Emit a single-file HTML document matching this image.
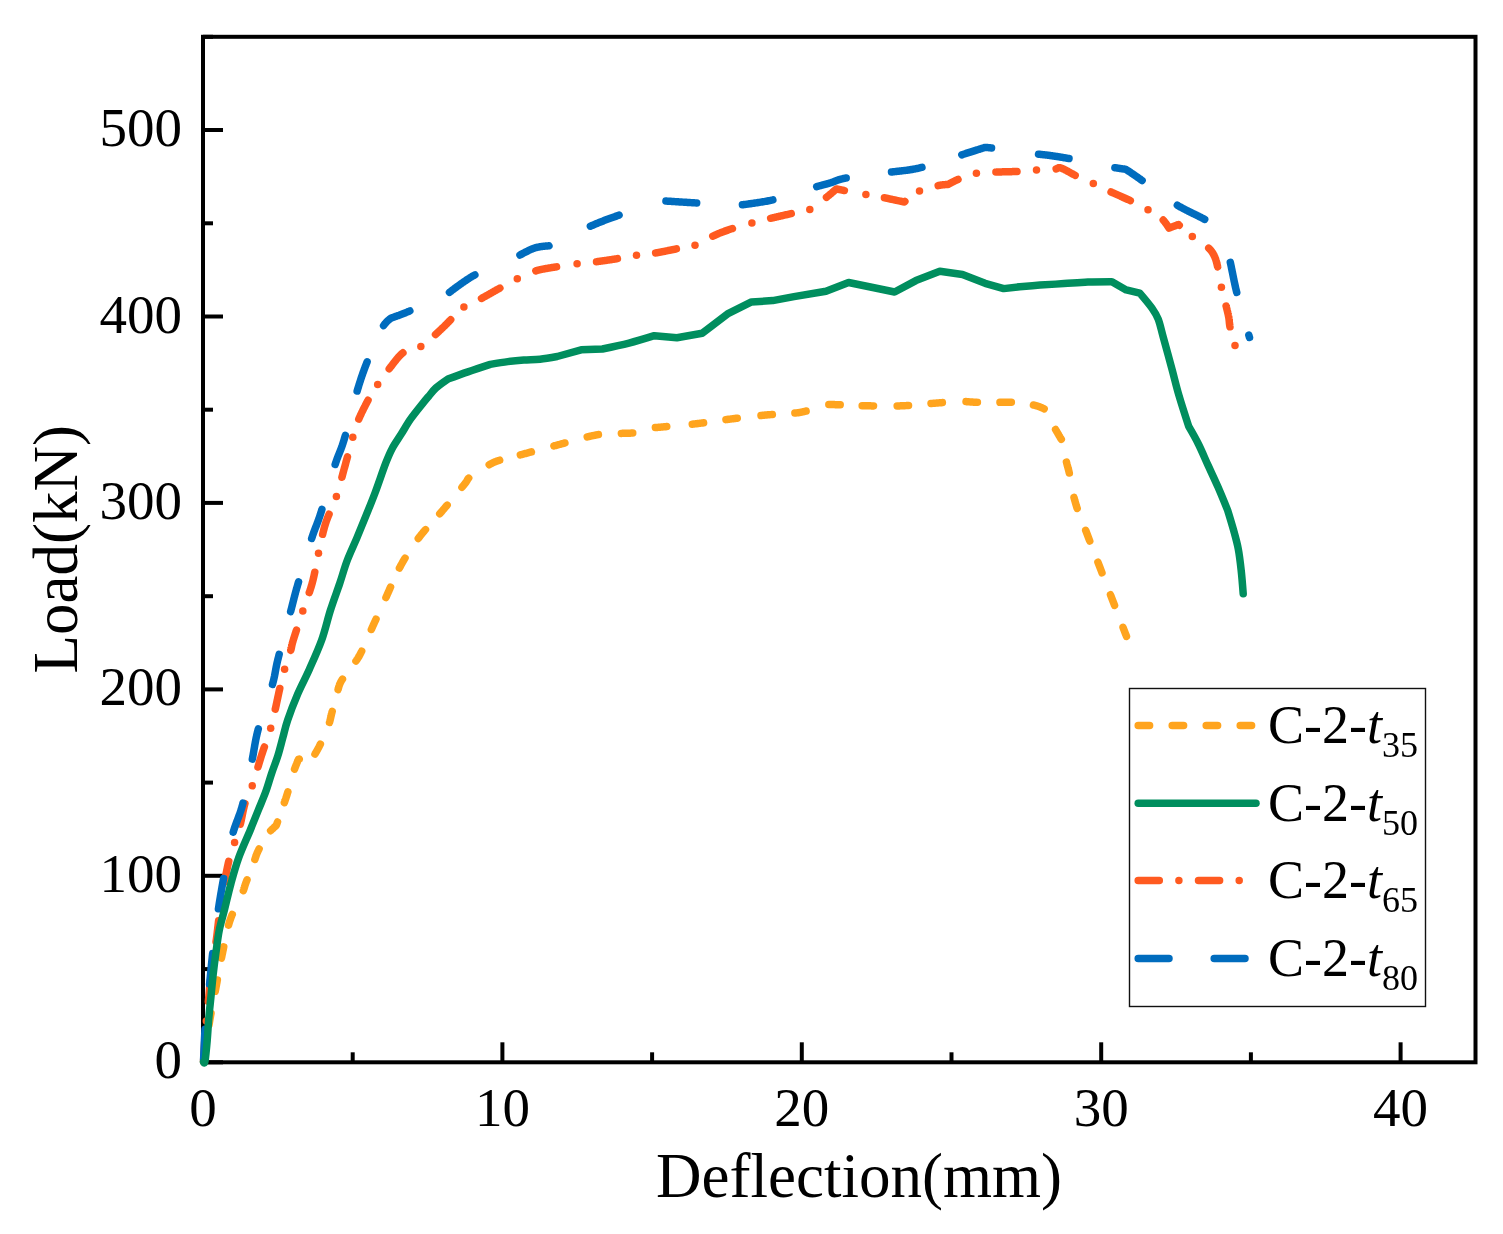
<!DOCTYPE html><html><head><meta charset="utf-8"><title>Load-Deflection</title><style>html,body{margin:0;padding:0;background:#fff;overflow:hidden;}svg{display:block;}</style></head><body>
<svg width="1503" height="1234" viewBox="0 0 1503 1234" font-family="'Liberation Serif', 'Times New Roman', serif">
<rect width="1503" height="1234" fill="#fff"/>
<g stroke="#000" stroke-width="4" fill="none" stroke-linecap="square">
<rect x="203.0" y="36.8" width="1272.5" height="1025.5"/>
<line x1="203.0" y1="1062.3" x2="203.0" y2="1042.3" stroke-linecap="butt"/>
<line x1="502.4" y1="1062.3" x2="502.4" y2="1042.3" stroke-linecap="butt"/>
<line x1="801.8" y1="1062.3" x2="801.8" y2="1042.3" stroke-linecap="butt"/>
<line x1="1101.2" y1="1062.3" x2="1101.2" y2="1042.3" stroke-linecap="butt"/>
<line x1="1400.6" y1="1062.3" x2="1400.6" y2="1042.3" stroke-linecap="butt"/>
<line x1="352.7" y1="1062.3" x2="352.7" y2="1052.3" stroke-linecap="butt"/>
<line x1="652.1" y1="1062.3" x2="652.1" y2="1052.3" stroke-linecap="butt"/>
<line x1="951.5" y1="1062.3" x2="951.5" y2="1052.3" stroke-linecap="butt"/>
<line x1="1250.9" y1="1062.3" x2="1250.9" y2="1052.3" stroke-linecap="butt"/>
<line x1="203.0" y1="1062.3" x2="223.0" y2="1062.3" stroke-linecap="butt"/>
<line x1="203.0" y1="875.8" x2="223.0" y2="875.8" stroke-linecap="butt"/>
<line x1="203.0" y1="689.4" x2="223.0" y2="689.4" stroke-linecap="butt"/>
<line x1="203.0" y1="502.9" x2="223.0" y2="502.9" stroke-linecap="butt"/>
<line x1="203.0" y1="316.5" x2="223.0" y2="316.5" stroke-linecap="butt"/>
<line x1="203.0" y1="130.0" x2="223.0" y2="130.0" stroke-linecap="butt"/>
<line x1="203.0" y1="969.1" x2="213.0" y2="969.1" stroke-linecap="butt"/>
<line x1="203.0" y1="782.6" x2="213.0" y2="782.6" stroke-linecap="butt"/>
<line x1="203.0" y1="596.2" x2="213.0" y2="596.2" stroke-linecap="butt"/>
<line x1="203.0" y1="409.7" x2="213.0" y2="409.7" stroke-linecap="butt"/>
<line x1="203.0" y1="223.3" x2="213.0" y2="223.3" stroke-linecap="butt"/>
<line x1="203.0" y1="36.8" x2="213.0" y2="36.8" stroke-linecap="butt"/>
</g>
<g font-size="55" fill="#000">
<text x="182" y="1078.3" text-anchor="end">0</text>
<text x="182" y="891.8" text-anchor="end">100</text>
<text x="182" y="705.4" text-anchor="end">200</text>
<text x="182" y="518.9" text-anchor="end">300</text>
<text x="182" y="332.5" text-anchor="end">400</text>
<text x="182" y="146.0" text-anchor="end">500</text>
<text x="203.0" y="1125.8" text-anchor="middle">0</text>
<text x="502.4" y="1125.8" text-anchor="middle">10</text>
<text x="801.8" y="1125.8" text-anchor="middle">20</text>
<text x="1101.2" y="1125.8" text-anchor="middle">30</text>
<text x="1400.6" y="1125.8" text-anchor="middle">40</text>
</g>
<text x="859" y="1196.7" font-size="63" text-anchor="middle">Deflection(mm)</text>
<text transform="translate(77.4,549.3) rotate(-90)" font-size="63" text-anchor="middle">Load(kN)</text>
<path d="M204.04,1058.30 L204.05,1058.25 L204.12,1057.79 L204.19,1057.32 L204.26,1056.83 L204.33,1056.33 L204.41,1055.81 L204.48,1055.29 L204.56,1054.75 L204.64,1054.20 L204.72,1053.65 L204.81,1053.09 L204.89,1052.53 L204.97,1051.96 L205.06,1051.39 L205.14,1050.82 L205.22,1050.26 L205.31,1049.69 L205.39,1049.14 L205.47,1048.58 L205.55,1048.04 L205.63,1047.50 L205.70,1047.03 M209.05,1024.68 L209.07,1024.54 L209.15,1024.08 L209.22,1023.63 L209.30,1023.18 L209.37,1022.74 L209.45,1022.30 L209.52,1021.86 L209.59,1021.42 L209.67,1020.99 L209.74,1020.56 L209.81,1020.14 L209.88,1019.71 L209.96,1019.29 L210.03,1018.87 L210.10,1018.45 L210.18,1018.03 L210.25,1017.62 L210.32,1017.20 L210.40,1016.79 L210.47,1016.38 L210.54,1015.96 L210.62,1015.55 L210.69,1015.14 L210.76,1014.73 L210.84,1014.32 L210.91,1013.90 L210.99,1013.49 L211.00,1013.44 M215.26,991.25 L215.37,990.66 L215.50,990.00 L215.63,989.31 L215.76,988.60 L215.90,987.87 L216.04,987.12 L216.19,986.34 L216.33,985.55 L216.48,984.74 L216.64,983.91 L216.79,983.06 L216.95,982.20 L217.11,981.33 L217.27,980.44 L217.34,980.04 M221.47,958.08 L221.57,957.57 L221.76,956.66 L221.94,955.76 L222.12,954.87 L222.30,954.00 L222.48,953.13 L222.66,952.27 L222.83,951.40 L223.01,950.53 L223.18,949.66 L223.35,948.80 L223.53,947.93 L223.70,947.06 L223.73,946.90 M228.54,925.20 L228.73,924.53 L228.95,923.75 L229.18,922.98 L229.42,922.21 L229.66,921.45 L229.90,920.70 L230.15,919.95 L230.41,919.20 L230.68,918.45 L230.96,917.69 L231.25,916.94 L231.55,916.19 L231.85,915.44 L232.16,914.69 L232.27,914.43 M243.35,890.60 L243.38,890.54 L243.49,890.24 L243.59,889.96 L243.68,889.68 L243.77,889.42 L243.86,889.17 L243.94,888.93 L244.01,888.69 L244.08,888.46 L244.15,888.24 L244.22,888.02 L244.28,887.80 L244.34,887.59 L244.41,887.37 L244.47,887.16 L244.53,886.95 L244.59,886.73 L244.66,886.51 L244.72,886.29 L244.79,886.06 L244.86,885.82 L244.94,885.58 L245.02,885.33 L245.10,885.07 L245.19,884.80 L245.28,884.51 L245.38,884.22 L245.49,883.91 L245.61,883.58 L245.73,883.24 L245.86,882.88 L246.00,882.50 L246.15,882.11 L246.30,881.70 L246.46,881.28 L246.63,880.84 L246.80,880.40 L246.97,879.94 L247.02,879.81 M254.86,859.47 L254.94,859.24 L255.04,858.94 L255.14,858.65 L255.23,858.37 L255.32,858.09 L255.41,857.81 L255.50,857.54 L255.59,857.26 L255.68,856.99 L255.77,856.73 L255.86,856.46 L255.95,856.19 L256.04,855.92 L256.14,855.65 L256.23,855.38 L256.33,855.10 L256.43,854.83 L256.54,854.55 L256.65,854.26 L256.76,853.97 L256.88,853.68 L257.00,853.38 L257.13,853.07 L257.26,852.76 L257.40,852.44 L257.55,852.11 L257.70,851.77 L257.86,851.42 L258.03,851.07 L258.20,850.70 L258.39,850.31 L258.59,849.90 L258.81,849.46 L259.05,849.00 L259.10,848.91 M270.65,830.65 L270.86,830.45 L271.16,830.17 L271.47,829.88 L271.79,829.59 L272.10,829.30 L272.41,829.01 L272.73,828.72 L273.04,828.43 L273.34,828.15 L273.64,827.87 L273.93,827.60 L274.21,827.34 L274.49,827.08 L274.74,826.85 L274.99,826.62 L275.22,826.41 L275.43,826.21 L275.62,826.03 L275.79,825.87 L275.94,825.74 L276.06,825.62 L276.17,825.53 L276.24,825.46 L276.28,825.41 L276.30,825.40 L276.31,825.37 L276.34,825.30 L276.38,825.18 L276.44,825.01 L276.52,824.80 L276.61,824.54 L276.71,824.25 L276.83,823.92 L276.96,823.56 L277.10,823.16 L277.25,822.73 L277.42,822.27 L277.54,821.93 M284.34,802.66 L284.45,802.36 L284.55,802.05 L284.66,801.75 L284.76,801.45 L284.86,801.16 L284.97,800.87 L285.07,800.58 L285.17,800.30 L285.26,800.01 L285.36,799.73 L285.46,799.44 L285.56,799.15 L285.66,798.86 L285.75,798.57 L285.85,798.28 L285.95,797.98 L286.05,797.68 L286.15,797.37 L286.25,797.06 L286.36,796.75 L286.46,796.42 L286.57,796.09 L286.68,795.75 L286.79,795.40 L286.90,795.05 L287.01,794.68 L287.13,794.30 L287.25,793.91 L287.37,793.51 L287.50,793.10 L287.63,792.67 L287.76,792.24 L287.88,791.83 M294.53,769.16 L294.69,768.73 L294.86,768.28 L295.03,767.83 L295.20,767.38 L295.37,766.94 L295.54,766.50 L295.71,766.06 L295.88,765.63 L296.05,765.21 L296.21,764.80 L296.37,764.40 L296.53,764.00 L296.69,763.62 L296.84,763.24 L296.99,762.88 L297.13,762.53 L297.27,762.20 L297.40,761.88 L297.52,761.58 L297.64,761.29 L297.75,761.02 L297.86,760.77 L297.96,760.54 L298.04,760.34 L298.12,760.15 L298.19,759.98 L298.26,759.84 L298.31,759.72 L298.35,759.62 L298.38,759.56 L298.39,759.51 L298.40,759.50 L298.41,759.50 L298.43,759.48 L298.47,759.46 L298.52,759.43 L298.58,759.39 L298.66,759.34 L298.75,759.28 L298.85,759.22 L298.97,759.16 L299.09,759.08 L299.22,759.00 L299.25,758.99 M314.96,754.10 L315.15,753.79 L315.34,753.46 L315.55,753.11 L315.75,752.76 L315.96,752.40 L316.18,752.04 L316.39,751.66 L316.61,751.28 L316.83,750.90 L317.05,750.51 L317.27,750.11 L317.49,749.71 L317.71,749.31 L317.93,748.91 L318.15,748.51 L318.37,748.10 L318.58,747.70 L318.80,747.29 L319.00,746.89 L319.21,746.49 L319.41,746.09 L319.60,745.70 L319.79,745.30 L319.99,744.89 L320.20,744.47 L320.38,744.08 M329.49,722.44 L329.54,722.26 L329.64,721.92 L329.73,721.59 L329.82,721.26 L329.91,720.94 L329.99,720.62 L330.07,720.30 L330.15,719.99 L330.23,719.68 L330.30,719.37 L330.38,719.06 L330.45,718.75 L330.52,718.44 L330.59,718.12 L330.66,717.81 L330.73,717.50 L330.80,717.18 L330.87,716.86 L330.94,716.54 L331.02,716.21 L331.09,715.88 L331.17,715.54 L331.25,715.20 L331.33,714.85 L331.42,714.50 L331.50,714.13 L331.60,713.76 L331.69,713.39 L331.79,713.00 L331.89,712.60 L332.00,712.20 L332.11,711.78 L332.22,711.38 M338.08,689.58 L338.12,689.43 L338.19,689.13 L338.27,688.83 L338.34,688.54 L338.42,688.26 L338.49,687.97 L338.56,687.69 L338.64,687.41 L338.72,687.13 L338.79,686.86 L338.87,686.58 L338.96,686.31 L339.04,686.03 L339.14,685.75 L339.23,685.47 L339.33,685.20 L339.43,684.91 L339.54,684.63 L339.65,684.34 L339.77,684.05 L339.90,683.75 L340.03,683.45 L340.18,683.14 L340.32,682.83 L340.48,682.51 L340.65,682.18 L340.82,681.85 L341.00,681.51 L341.20,681.16 L341.40,680.80 L341.62,680.43 L341.84,680.06 L342.08,679.67 L342.33,679.28 L342.44,679.12 M355.97,661.04 L356.06,660.92 L356.23,660.68 L356.39,660.44 L356.56,660.21 L356.72,659.98 L356.88,659.76 L357.03,659.53 L357.19,659.30 L357.34,659.07 L357.49,658.84 L357.65,658.61 L357.80,658.37 L357.95,658.13 L358.11,657.88 L358.26,657.63 L358.42,657.37 L358.58,657.10 L358.75,656.82 L358.91,656.53 L359.09,656.23 L359.26,655.91 L359.44,655.59 L359.62,655.25 L359.82,654.89 L360.01,654.52 L360.21,654.13 L360.42,653.73 L360.64,653.31 L360.87,652.86 L361.10,652.40 L361.34,651.92 L361.59,651.42 L361.69,651.20 M371.34,629.48 L371.60,628.89 L371.90,628.20 L372.20,627.53 L372.50,626.86 L372.80,626.20 L373.10,625.55 L373.39,624.90 L373.68,624.26 L373.97,623.62 L374.26,622.98 L374.54,622.35 L374.83,621.72 L375.12,621.10 L375.40,620.47 L375.68,619.85 L375.97,619.23 L376.03,619.09 M385.94,597.49 L386.23,596.85 L386.60,596.03 L386.97,595.20 L387.34,594.35 L387.72,593.50 L388.10,592.64 L388.48,591.78 L388.86,590.90 L389.25,590.02 L389.64,589.13 L390.03,588.23 L390.43,587.33 L390.55,587.06 M399.44,568.03 L399.60,567.72 L400.03,566.90 L400.47,566.10 L400.90,565.30 L401.33,564.51 L401.77,563.74 L402.20,562.96 L402.64,562.20 L403.08,561.43 L403.51,560.68 L403.95,559.93 L404.39,559.18 L404.83,558.44 L405.04,558.10 M418.30,538.48 L418.47,538.27 L418.98,537.58 L419.50,536.90 L420.02,536.22 L420.55,535.54 L421.09,534.86 L421.63,534.18 L422.17,533.51 L422.72,532.84 L423.28,532.17 L423.84,531.50 L424.40,530.84 L424.97,530.17 L425.46,529.61 M439.75,513.76 L440.23,513.22 L440.80,512.56 L441.37,511.91 L441.94,511.26 L442.50,510.60 L443.06,509.94 L443.64,509.27 L444.22,508.58 L444.80,507.89 L445.39,507.19 L445.99,506.48 L446.59,505.77 L447.16,505.10 M461.96,487.26 L462.35,486.77 L462.78,486.26 L463.18,485.76 L463.57,485.29 L463.95,484.83 L464.30,484.40 L464.63,483.99 L464.93,483.61 L465.21,483.25 L465.47,482.91 L465.71,482.60 L465.92,482.30 L466.11,482.03 L466.29,481.77 L466.45,481.53 L466.59,481.31 L466.72,481.10 L466.84,480.91 L466.95,480.72 L467.04,480.56 L467.12,480.40 L467.20,480.25 L467.27,480.11 L467.34,479.98 L467.40,479.86 L467.46,479.74 L467.51,479.62 L467.57,479.51 L467.63,479.41 L467.69,479.30 L467.75,479.20 L467.82,479.09 L467.89,478.99 L467.97,478.88 L468.06,478.77 L468.16,478.65 L468.28,478.53 L468.40,478.40 L468.54,478.26 L468.69,478.11 L468.69,478.11 M489.20,464.72 L489.39,464.61 L489.66,464.45 L489.94,464.29 L490.23,464.13 L490.54,463.96 L490.86,463.79 L491.18,463.62 L491.52,463.44 L491.87,463.26 L492.24,463.08 L492.61,462.90 L492.99,462.72 L493.38,462.54 L493.78,462.36 L494.20,462.17 L494.62,461.99 L495.05,461.82 L495.48,461.64 L495.93,461.47 L496.39,461.29 L496.85,461.13 L497.32,460.96 L497.80,460.80 L498.29,460.64 L498.80,460.48 L499.32,460.32 L499.64,460.22 M520.37,454.83 L520.85,454.71 L521.63,454.51 L522.41,454.31 L523.18,454.11 L523.96,453.91 L524.73,453.70 L525.50,453.50 L526.28,453.29 L527.06,453.09 L527.86,452.87 L528.68,452.66 L529.50,452.44 L530.33,452.22 L531.17,452.00 L531.40,451.94 M553.92,445.95 L554.69,445.74 L555.49,445.53 L556.28,445.31 L557.05,445.11 L557.82,444.90 L558.57,444.70 L559.30,444.50 L560.02,444.30 L560.74,444.11 L561.44,443.92 L562.14,443.72 L562.83,443.53 L563.52,443.34 L564.20,443.15 L564.87,442.96 L564.92,442.95 M587.24,436.92 L587.65,436.82 L588.13,436.70 L588.61,436.59 L589.09,436.48 L589.55,436.37 L590.02,436.26 L590.48,436.16 L590.94,436.06 L591.39,435.96 L591.84,435.86 L592.29,435.76 L592.73,435.66 L593.18,435.57 L593.61,435.48 L594.05,435.39 L594.48,435.30 L594.92,435.21 L595.35,435.13 L595.77,435.05 L596.20,434.97 L596.63,434.89 L597.05,434.81 L597.48,434.74 L597.90,434.66 L598.32,434.59 L598.40,434.58 M621.35,433.39 L621.66,433.38 L622.23,433.36 L622.82,433.34 L623.41,433.33 L624.01,433.31 L624.61,433.29 L625.21,433.28 L625.82,433.26 L626.42,433.24 L627.02,433.23 L627.61,433.21 L628.20,433.20 L628.77,433.18 L629.34,433.17 L629.90,433.15 L630.44,433.14 L630.96,433.12 L631.47,433.11 L631.95,433.10 L632.42,433.08 L632.74,433.08 M655.39,427.54 L655.39,427.54 L655.56,427.52 L655.73,427.51 L655.90,427.49 L656.08,427.48 L656.26,427.47 L656.46,427.46 L656.66,427.44 L656.87,427.43 L657.10,427.42 L657.33,427.40 L657.58,427.39 L657.85,427.37 L658.14,427.35 L658.44,427.33 L658.76,427.30 L659.10,427.28 L659.47,427.25 L659.86,427.22 L660.27,427.18 L660.71,427.14 L661.18,427.10 L661.67,427.05 L662.20,427.00 L662.75,426.95 L663.33,426.89 L663.94,426.83 L664.57,426.77 L665.22,426.72 L665.89,426.65 L666.58,426.59 L666.75,426.58 M692.27,424.21 L692.41,424.19 L693.28,424.10 L694.15,424.00 L695.00,423.90 L695.85,423.80 L696.70,423.70 L697.55,423.59 L698.41,423.49 L699.27,423.38 L700.13,423.26 L700.99,423.15 L701.86,423.04 L702.73,422.92 L703.58,422.80 M725.95,419.63 L726.49,419.56 L727.37,419.44 L728.25,419.32 L729.12,419.21 L730.00,419.10 L730.88,418.99 L731.75,418.88 L732.63,418.77 L733.51,418.66 L734.39,418.55 L735.27,418.44 L736.15,418.33 L737.03,418.22 L737.26,418.19 M761.00,415.49 L761.58,415.43 L762.44,415.34 L763.30,415.26 L764.15,415.18 L765.00,415.10 L765.87,415.02 L766.77,414.94 L767.71,414.86 L768.68,414.78 L769.67,414.70 L770.69,414.62 L771.73,414.54 L772.35,414.49 M794.89,412.98 L795.07,412.97 L795.66,412.94 L796.18,412.91 L796.65,412.88 L797.05,412.86 L797.38,412.84 L797.65,412.82 L797.84,412.81 L797.96,412.80 L798.00,412.80 L798.01,412.80 L798.04,412.79 L798.10,412.78 L798.17,412.77 L798.26,412.75 L798.37,412.73 L798.50,412.71 L798.64,412.68 L798.80,412.65 L798.98,412.62 L799.17,412.58 L799.37,412.54 L799.59,412.50 L799.82,412.45 L800.07,412.41 L800.32,412.36 L800.59,412.30 L800.86,412.25 L801.14,412.19 L801.44,412.12 L801.74,412.06 L802.05,412.00 L802.36,411.93 L802.68,411.86 L803.00,411.78 L803.33,411.71 L803.67,411.63 L804.00,411.56 L804.34,411.48 L804.68,411.39 L805.02,411.31 L805.36,411.23 L805.70,411.14 L806.04,411.05 L806.10,411.04 M828.82,404.48 L829.00,404.48 L829.26,404.47 L829.51,404.46 L829.75,404.46 L829.98,404.46 L830.21,404.46 L830.42,404.46 L830.62,404.46 L830.81,404.46 L830.99,404.47 L831.16,404.47 L831.31,404.47 L831.45,404.48 L831.57,404.48 L831.68,404.49 L831.78,404.49 L831.86,404.49 L831.92,404.50 L831.96,404.50 L831.99,404.50 L832.00,404.50 L832.04,404.50 L832.17,404.51 L832.38,404.52 L832.67,404.53 L833.03,404.55 L833.47,404.57 L833.97,404.59 L834.54,404.61 L835.17,404.64 L835.85,404.67 L836.60,404.71 L837.39,404.74 L838.23,404.78 L839.12,404.81 L840.05,404.85 L840.21,404.86 M862.16,405.68 L862.33,405.68 L863.37,405.71 L864.38,405.74 L865.36,405.76 L866.30,405.78 L867.20,405.80 L868.08,405.82 L868.95,405.83 L869.83,405.85 L870.71,405.87 L871.58,405.88 L872.46,405.90 L873.34,405.91 L873.55,405.92 M897.15,405.96 L897.83,405.94 L898.70,405.92 L899.58,405.89 L900.45,405.86 L901.33,405.83 L902.20,405.80 L903.08,405.76 L903.96,405.72 L904.85,405.68 L905.75,405.63 L906.65,405.58 L907.56,405.52 L908.46,405.46 L908.54,405.46 M931.02,403.53 L931.73,403.47 L932.55,403.39 L933.35,403.32 L934.15,403.25 L934.93,403.19 L935.70,403.12 L936.46,403.06 L937.20,403.00 L937.95,402.94 L938.71,402.88 L939.48,402.82 L940.26,402.76 L941.05,402.70 L941.86,402.64 L942.38,402.60 M966.03,401.60 L966.03,401.60 L966.58,401.65 L967.14,401.69 L967.72,401.74 L968.31,401.78 L968.92,401.83 L969.54,401.87 L970.17,401.92 L970.81,401.96 L971.46,402.01 L972.11,402.05 L972.77,402.10 L973.43,402.14 L974.08,402.18 L974.74,402.22 L975.40,402.26 L976.05,402.29 L976.69,402.33 L977.33,402.36 L977.40,402.36 M999.95,402.36 L1000.53,402.35 L1001.12,402.34 L1001.70,402.33 L1002.27,402.33 L1002.84,402.32 L1003.39,402.31 L1003.94,402.31 L1004.47,402.30 L1005.00,402.30 L1005.53,402.30 L1006.07,402.30 L1006.62,402.29 L1007.17,402.29 L1007.74,402.29 L1008.32,402.29 L1008.90,402.29 L1009.48,402.29 L1010.07,402.29 L1010.66,402.29 L1011.25,402.29 L1011.35,402.29 M1033.47,405.00 L1033.80,405.08 L1034.28,405.21 L1034.74,405.33 L1035.19,405.45 L1035.63,405.57 L1036.05,405.69 L1036.44,405.80 L1036.82,405.91 L1037.17,406.01 L1037.50,406.11 L1037.80,406.20 L1038.09,406.29 L1038.37,406.39 L1038.66,406.48 L1038.94,406.58 L1039.22,406.69 L1039.50,406.79 L1039.78,406.90 L1040.06,407.00 L1040.33,407.11 L1040.60,407.22 L1040.86,407.33 L1041.12,407.44 L1041.38,407.55 L1041.63,407.66 L1041.88,407.77 L1042.12,407.88 L1042.36,407.99 L1042.59,408.09 L1042.81,408.20 L1043.03,408.30 L1043.24,408.40 L1043.44,408.50 L1043.64,408.59 L1043.82,408.68 L1044.00,408.77 L1044.16,408.85 M1055.56,429.47 L1055.79,429.89 L1056.04,430.32 L1056.29,430.76 L1056.54,431.20 L1056.79,431.64 L1057.05,432.08 L1057.30,432.52 L1057.55,432.95 L1057.81,433.39 L1058.06,433.81 L1058.30,434.24 L1058.55,434.65 L1058.79,435.06 L1059.02,435.46 L1059.26,435.85 L1059.48,436.23 L1059.70,436.60 L1059.91,436.96 L1060.12,437.30 L1060.31,437.63 L1060.50,437.94 L1060.67,438.23 L1060.84,438.51 L1061.00,438.77 L1061.14,439.01 L1061.27,439.23 L1061.32,439.31 M1066.46,462.03 L1066.48,462.11 L1066.57,462.49 L1066.66,462.86 L1066.75,463.22 L1066.84,463.57 L1066.93,463.91 L1067.01,464.24 L1067.10,464.56 L1067.18,464.88 L1067.26,465.18 L1067.34,465.49 L1067.42,465.79 L1067.50,466.08 L1067.58,466.37 L1067.66,466.66 L1067.74,466.95 L1067.82,467.23 L1067.90,467.51 L1067.98,467.79 L1068.06,468.08 L1068.13,468.36 L1068.21,468.65 L1068.29,468.94 L1068.37,469.23 L1068.44,469.52 L1068.52,469.82 L1068.60,470.12 L1068.68,470.43 L1068.76,470.75 L1068.84,471.07 L1068.92,471.41 L1069.00,471.75 L1069.08,472.09 L1069.16,472.45 L1069.25,472.82 L1069.30,473.07 M1073.98,497.44 L1074.09,497.85 L1074.21,498.32 L1074.34,498.79 L1074.46,499.25 L1074.59,499.71 L1074.72,500.17 L1074.84,500.63 L1074.97,501.08 L1075.10,501.52 L1075.22,501.96 L1075.34,502.38 L1075.46,502.80 L1075.58,503.21 L1075.70,503.60 L1075.81,503.99 L1075.92,504.36 L1076.02,504.71 L1076.12,505.05 L1076.22,505.37 L1076.31,505.68 L1076.40,505.96 L1076.48,506.23 L1076.55,506.48 L1076.62,506.70 L1076.69,506.90 L1076.74,507.08 L1076.79,507.24 L1076.83,507.36 L1076.86,507.47 L1076.88,507.54 L1076.90,507.58 L1076.90,507.60 L1076.99,507.84 L1077.20,508.38 M1085.67,530.37 L1086.09,531.46 L1087.61,535.42 L1089.21,539.57 L1089.77,541.01 M1097.90,562.14 L1097.99,562.37 L1099.84,567.17 L1101.70,572.00 L1102.00,572.78 M1110.46,594.75 L1110.81,595.65 L1112.53,600.11 L1114.19,604.43 L1114.56,605.39 M1123.02,627.36 L1123.49,628.58 L1124.37,630.87 L1125.11,632.79 L1125.70,634.34 L1126.14,635.47 L1126.41,636.16 L1126.50,636.40" fill="none" stroke="#FFA41E" stroke-width="7.5" stroke-linecap="round" stroke-linejoin="round"/>
<path d="M203.53,1061.51 L203.53,1061.38 L203.55,1061.05 L203.57,1060.65 L203.60,1060.19 L203.63,1059.66 L203.66,1059.09 L203.70,1058.45 L203.73,1057.77 L203.77,1057.04 L203.82,1056.27 L203.86,1055.45 L203.91,1054.60 L203.96,1053.71 L204.02,1052.79 L204.07,1051.84 L204.13,1050.87 L204.19,1049.88 L204.25,1048.86 L204.31,1047.83 L204.37,1046.78 L204.44,1045.73 L204.50,1044.67 L204.57,1043.60 L204.63,1042.53 L204.70,1041.47 L204.77,1040.45 M208.36,1001.42 L208.42,1000.81 L208.50,1000.00 L208.58,999.18 L208.66,998.35 L208.74,997.51 L208.83,996.65 L208.91,995.79 L208.99,994.91 L209.08,994.03 L209.16,993.14 L209.24,992.24 L209.33,991.34 L209.41,990.43 L209.49,989.51 L209.58,988.60 L209.66,987.67 L209.75,986.75 L209.84,985.82 L209.92,984.89 L210.01,983.97 L210.09,983.04 L210.18,982.11 L210.27,981.19 L210.34,980.41 M216.03,941.65 L216.10,941.20 L216.18,940.63 L216.27,940.06 L216.35,939.50 L216.42,938.93 L216.50,938.37 L216.58,937.82 L216.65,937.26 L216.72,936.70 L216.79,936.15 L216.86,935.60 L216.93,935.05 L217.00,934.50 L217.06,933.96 L217.13,933.41 L217.19,932.87 L217.26,932.32 L217.32,931.78 L217.38,931.24 L217.44,930.70 L217.51,930.16 L217.57,929.62 L217.63,929.08 L217.69,928.54 L217.75,928.00 L217.81,927.46 L217.87,926.92 L217.94,926.38 L218.00,925.84 L218.06,925.30 L218.12,924.76 L218.19,924.22 L218.25,923.68 L218.32,923.13 L218.38,922.59 L218.45,922.04 L218.52,921.50 L218.59,920.95 L218.62,920.71 M224.53,881.96 L224.57,881.73 L224.65,881.26 L224.74,880.80 L224.83,880.32 L224.92,879.85 L225.01,879.37 L225.11,878.89 L225.20,878.40 L225.30,877.91 L225.39,877.41 L225.49,876.91 L225.59,876.40 L225.69,875.88 L225.79,875.37 L225.89,874.85 L225.99,874.32 L226.10,873.79 L226.20,873.26 L226.31,872.73 L226.41,872.20 L226.52,871.66 L226.63,871.12 L226.74,870.58 L226.84,870.04 L226.95,869.51 L227.06,868.97 L227.18,868.43 L227.29,867.89 L227.40,867.35 L227.51,866.81 L227.63,866.28 L227.74,865.75 L227.85,865.22 L227.97,864.69 L228.08,864.17 L228.20,863.65 L228.31,863.13 L228.43,862.62 L228.55,862.11 L228.66,861.61 L228.74,861.29 M240.33,824.10 L240.39,823.86 L240.52,823.33 L240.65,822.79 L240.77,822.24 L240.90,821.68 L241.02,821.12 L241.15,820.55 L241.27,819.98 L241.39,819.40 L241.51,818.81 L241.64,818.22 L241.76,817.63 L241.88,817.04 L242.00,816.44 L242.13,815.84 L242.25,815.24 L242.37,814.63 L242.49,814.03 L242.62,813.43 L242.74,812.83 L242.87,812.23 L242.99,811.63 L243.12,811.03 L243.25,810.44 L243.38,809.84 L243.51,809.26 L243.64,808.67 L243.77,808.10 L243.91,807.52 L244.04,806.96 L244.18,806.40 L244.32,805.84 L244.46,805.30 L244.60,804.76 L244.75,804.23 L244.90,803.71 L244.96,803.51 M257.99,767.03 L258.20,766.31 L258.43,765.53 L258.66,764.74 L258.89,763.96 L259.12,763.18 L259.35,762.40 L259.58,761.63 L259.82,760.86 L260.05,760.10 L260.28,759.35 L260.51,758.60 L260.74,757.86 L260.97,757.12 L261.20,756.40 L261.43,755.68 L261.67,754.95 L261.91,754.22 L262.15,753.49 L262.39,752.75 L262.64,752.01 L262.89,751.27 L263.14,750.52 L263.40,749.78 L263.65,749.03 L263.91,748.28 L264.17,747.54 L264.38,746.93 M275.31,709.06 L275.34,708.94 L275.46,708.40 L275.58,707.84 L275.71,707.28 L275.83,706.71 L275.96,706.14 L276.09,705.56 L276.21,704.97 L276.34,704.38 L276.47,703.78 L276.60,703.17 L276.73,702.57 L276.86,701.96 L276.99,701.34 L277.12,700.73 L277.25,700.11 L277.39,699.49 L277.52,698.87 L277.65,698.25 L277.78,697.63 L277.91,697.01 L278.05,696.39 L278.18,695.78 L278.31,695.16 L278.44,694.55 L278.57,693.95 L278.70,693.34 L278.83,692.74 L278.96,692.15 L279.09,691.56 L279.21,690.98 L279.34,690.40 L279.47,689.83 L279.59,689.27 L279.72,688.72 L279.78,688.44 M290.79,650.33 L290.86,650.08 L290.93,649.80 L291.00,649.53 L291.06,649.27 L291.12,649.02 L291.17,648.77 L291.23,648.54 L291.28,648.31 L291.32,648.09 L291.37,647.87 L291.41,647.65 L291.45,647.44 L291.49,647.22 L291.53,647.01 L291.58,646.79 L291.62,646.57 L291.66,646.35 L291.71,646.13 L291.75,645.89 L291.80,645.65 L291.86,645.41 L291.91,645.15 L291.97,644.88 L292.04,644.61 L292.10,644.32 L292.18,644.01 L292.26,643.69 L292.34,643.36 L292.44,643.01 L292.54,642.64 L292.64,642.26 L292.76,641.85 L292.88,641.42 L293.01,640.97 L293.15,640.50 L293.30,640.00 L293.46,639.48 L293.63,638.94 L293.80,638.37 L293.98,637.79 L294.17,637.19 L294.37,636.57 L294.57,635.93 L294.78,635.28 L294.99,634.61 L295.21,633.93 L295.44,633.23 L295.66,632.52 L295.90,631.80 L296.14,631.06 L296.38,630.32 L296.47,630.03 M309.27,592.56 L309.46,592.00 L309.69,591.30 L309.93,590.60 L310.16,589.90 L310.39,589.20 L310.61,588.49 L310.83,587.79 L311.05,587.08 L311.27,586.37 L311.48,585.66 L311.69,584.95 L311.90,584.24 L312.10,583.52 L312.30,582.80 L312.49,582.08 L312.68,581.36 L312.87,580.63 L313.05,579.91 L313.23,579.18 L313.40,578.45 L313.57,577.72 L313.74,576.99 L313.90,576.26 L314.06,575.53 L314.22,574.79 L314.38,574.06 L314.53,573.32 L314.68,572.58 L314.76,572.21 M322.63,534.30 L322.73,533.89 L322.91,533.15 L323.09,532.41 L323.27,531.68 L323.46,530.94 L323.65,530.21 L323.84,529.47 L324.03,528.74 L324.23,528.02 L324.43,527.29 L324.64,526.57 L324.85,525.85 L325.06,525.13 L325.28,524.41 L325.50,523.70 L325.73,522.99 L325.96,522.29 L326.20,521.58 L326.44,520.89 L326.69,520.19 L326.95,519.50 L327.21,518.81 L327.47,518.13 L327.74,517.45 L328.01,516.76 L328.29,516.09 L328.57,515.41 L328.85,514.74 L329.06,514.23 M341.93,477.25 L342.11,476.57 L342.31,475.83 L342.50,475.08 L342.70,474.33 L342.90,473.59 L343.09,472.84 L343.29,472.10 L343.49,471.35 L343.69,470.61 L343.89,469.86 L344.09,469.12 L344.29,468.38 L344.50,467.64 L344.70,466.90 L344.91,466.16 L345.11,465.41 L345.32,464.65 L345.53,463.89 L345.74,463.12 L345.95,462.35 L346.16,461.57 L346.37,460.79 L346.59,460.01 L346.80,459.22 L347.01,458.43 L347.22,457.64 L347.43,456.88 M358.75,419.17 L358.81,419.03 L359.02,418.54 L359.24,418.03 L359.46,417.53 L359.69,417.01 L359.92,416.49 L360.16,415.97 L360.41,415.44 L360.65,414.91 L360.90,414.37 L361.16,413.83 L361.41,413.29 L361.67,412.74 L361.94,412.19 L362.20,411.64 L362.47,411.09 L362.74,410.54 L363.01,409.99 L363.28,409.44 L363.55,408.89 L363.83,408.35 L364.10,407.80 L364.38,407.26 L364.65,406.71 L364.93,406.18 L365.20,405.64 L365.48,405.11 L365.75,404.58 L366.02,404.06 L366.29,403.54 L366.56,403.03 L366.82,402.53 L367.09,402.03 L367.35,401.54 L367.60,401.05 L367.86,400.58 L368.04,400.23 M389.23,368.78 L389.50,368.44 L389.84,368.00 L390.18,367.56 L390.53,367.10 L390.89,366.64 L391.24,366.18 L391.60,365.70 L391.96,365.22 L392.33,364.74 L392.70,364.26 L393.07,363.77 L393.45,363.28 L393.82,362.79 L394.20,362.30 L394.59,361.81 L394.97,361.31 L395.36,360.83 L395.75,360.34 L396.14,359.85 L396.54,359.37 L396.93,358.89 L397.33,358.42 L397.73,357.96 L398.13,357.50 L398.53,357.04 L398.93,356.60 L399.33,356.16 L399.74,355.73 L400.14,355.31 L400.55,354.90 L400.95,354.51 L401.36,354.12 L401.77,353.75 L402.17,353.39 L402.58,353.05 L402.91,352.78 M435.52,334.43 L436.06,333.93 L436.60,333.43 L437.14,332.92 L437.68,332.41 L438.22,331.91 L438.76,331.40 L439.31,330.90 L439.85,330.39 L440.39,329.89 L440.93,329.39 L441.46,328.89 L442.00,328.40 L442.54,327.90 L443.08,327.39 L443.63,326.87 L444.18,326.34 L444.73,325.79 L445.29,325.24 L445.85,324.69 L446.42,324.12 L446.98,323.55 L447.55,322.97 L448.12,322.39 L448.69,321.80 L449.26,321.21 L449.83,320.62 L450.40,320.03 L450.67,319.75 M481.51,298.40 L481.94,298.16 L482.45,297.89 L482.96,297.61 L483.48,297.32 L484.01,297.03 L484.55,296.73 L485.08,296.44 L485.63,296.13 L486.17,295.83 L486.73,295.52 L487.28,295.21 L487.84,294.89 L488.40,294.58 L488.96,294.26 L489.53,293.94 L490.09,293.62 L490.66,293.30 L491.22,292.98 L491.79,292.66 L492.35,292.34 L492.91,292.02 L493.47,291.70 L494.03,291.38 L494.58,291.07 L495.14,290.76 L495.68,290.45 L496.23,290.14 L496.76,289.83 L497.30,289.53 L497.82,289.24 L498.34,288.95 L498.86,288.66 L499.36,288.37 L499.86,288.10 L499.91,288.07 M535.84,270.82 L535.90,270.80 L536.42,270.65 L536.94,270.50 L537.48,270.36 L538.02,270.22 L538.56,270.08 L539.11,269.94 L539.67,269.81 L540.23,269.68 L540.79,269.56 L541.36,269.43 L541.94,269.31 L542.51,269.19 L543.09,269.08 L543.67,268.97 L544.26,268.85 L544.84,268.74 L545.43,268.64 L546.02,268.53 L546.61,268.43 L547.20,268.32 L547.79,268.22 L548.38,268.13 L548.97,268.03 L549.56,267.93 L550.14,267.84 L550.73,267.74 L551.31,267.65 L551.89,267.56 L552.46,267.47 L553.04,267.38 L553.61,267.29 L554.17,267.20 L554.73,267.11 L555.29,267.02 L555.84,266.94 L556.38,266.85 L556.54,266.82 M596.50,261.72 L596.56,261.72 L597.12,261.64 L597.69,261.56 L598.28,261.48 L598.87,261.40 L599.46,261.32 L600.07,261.24 L600.68,261.15 L601.29,261.07 L601.91,260.98 L602.54,260.89 L603.17,260.80 L603.80,260.71 L604.44,260.62 L605.07,260.52 L605.71,260.43 L606.35,260.34 L606.99,260.24 L607.63,260.15 L608.27,260.05 L608.90,259.96 L609.54,259.87 L610.17,259.77 L610.80,259.68 L611.42,259.58 L612.04,259.49 L612.66,259.39 L613.27,259.30 L613.87,259.21 L614.47,259.12 L615.06,259.02 L615.64,258.93 L616.21,258.85 L616.77,258.76 L617.33,258.67 L617.38,258.66 M655.66,252.97 L655.97,252.92 L656.55,252.82 L657.14,252.71 L657.75,252.60 L658.36,252.49 L658.99,252.37 L659.62,252.25 L660.26,252.13 L660.91,252.01 L661.56,251.88 L662.22,251.75 L662.89,251.62 L663.56,251.49 L664.23,251.36 L664.90,251.22 L665.58,251.09 L666.25,250.95 L666.93,250.81 L667.61,250.68 L668.28,250.54 L668.95,250.40 L669.62,250.26 L670.29,250.13 L670.95,249.99 L671.61,249.86 L672.26,249.73 L672.90,249.59 L673.54,249.46 L674.16,249.34 L674.78,249.21 L675.39,249.09 L675.99,248.96 L676.36,248.89 M712.78,236.21 L713.11,236.05 L713.97,235.65 L714.83,235.25 L715.69,234.86 L716.53,234.48 L717.35,234.11 L718.16,233.76 L718.95,233.42 L719.73,233.10 L720.48,232.79 L721.20,232.50 L721.91,232.22 L722.64,231.95 L723.36,231.67 L724.10,231.40 L724.84,231.13 L725.58,230.87 L726.33,230.60 L727.09,230.34 L727.85,230.08 L728.61,229.82 L729.38,229.56 L730.15,229.30 L730.93,229.05 L731.70,228.80 L732.43,228.57 M770.66,218.29 L771.07,218.20 L771.77,218.04 L772.47,217.88 L773.18,217.72 L773.88,217.56 L774.59,217.40 L775.29,217.24 L776.00,217.08 L776.71,216.92 L777.43,216.76 L778.14,216.60 L778.86,216.43 L779.58,216.27 L780.30,216.10 L781.04,215.93 L781.82,215.75 L782.63,215.56 L783.47,215.37 L784.34,215.18 L785.23,214.97 L786.14,214.77 L787.07,214.56 L788.02,214.34 L788.98,214.13 L789.95,213.91 L790.93,213.69 L791.24,213.62 M826.50,197.27 L826.53,197.24 L826.87,196.97 L827.22,196.70 L827.56,196.42 L827.91,196.14 L828.26,195.86 L828.61,195.58 L828.96,195.29 L829.31,195.00 L829.66,194.71 L830.01,194.42 L830.36,194.13 L830.70,193.84 L831.04,193.55 L831.38,193.27 L831.71,192.99 L832.03,192.71 L832.35,192.44 L832.66,192.17 L832.96,191.91 L833.26,191.66 L833.54,191.41 L833.82,191.17 L834.09,190.94 L834.34,190.72 L834.59,190.50 L834.82,190.30 L835.03,190.11 L835.24,189.93 L835.43,189.76 L835.61,189.61 L835.76,189.46 L835.91,189.34 L836.03,189.23 L836.14,189.13 L836.23,189.05 L836.31,188.98 L836.36,188.94 L836.39,188.91 L836.40,188.90 L836.41,188.90 L836.44,188.91 L836.50,188.92 L836.57,188.94 L836.67,188.96 L836.78,188.98 L836.91,189.01 L837.06,189.04 L837.23,189.08 L837.41,189.11 L837.61,189.16 L837.83,189.20 L838.05,189.25 L838.30,189.30 L838.55,189.35 L838.82,189.41 L839.10,189.47 L839.39,189.53 L839.69,189.59 L840.01,189.66 L840.33,189.72 L840.66,189.79 L840.99,189.86 L841.34,189.93 L841.69,190.00 L842.05,190.07 L842.41,190.15 L842.78,190.22 L843.15,190.29 L843.52,190.37 L843.90,190.44 L844.28,190.52 L844.37,190.54 M884.40,197.80 L884.41,197.80 L884.96,197.91 L885.53,198.03 L886.13,198.15 L886.74,198.28 L887.37,198.41 L888.01,198.54 L888.67,198.68 L889.34,198.82 L890.02,198.96 L890.71,199.11 L891.40,199.25 L892.09,199.40 L892.79,199.55 L893.48,199.70 L894.17,199.84 L894.85,199.99 L895.53,200.13 L896.19,200.28 L896.85,200.41 L897.49,200.55 L898.11,200.69 L898.72,200.82 L899.30,200.94 L899.86,201.06 L900.40,201.18 L900.91,201.29 L901.40,201.39 L901.85,201.49 L902.27,201.58 L902.65,201.66 L903.00,201.74 L903.30,201.81 L903.57,201.86 L903.79,201.91 L903.97,201.95 L904.09,201.98 L904.17,201.99 L904.20,202.00 L904.22,201.98 L904.27,201.94 L904.36,201.87 L904.48,201.77 L904.63,201.64 L904.81,201.49 L904.86,201.45 M938.19,185.58 L938.46,185.52 L938.81,185.44 L939.17,185.37 L939.53,185.30 L939.89,185.24 L940.25,185.18 L940.60,185.12 L940.95,185.06 L941.30,185.01 L941.65,184.96 L941.99,184.92 L942.33,184.88 L942.67,184.84 L943.00,184.80 L943.32,184.77 L943.64,184.74 L943.95,184.71 L944.25,184.68 L944.54,184.66 L944.83,184.64 L945.11,184.62 L945.38,184.60 L945.64,184.58 L945.88,184.57 L946.12,184.56 L946.35,184.55 L946.56,184.54 L946.76,184.53 L946.95,184.52 L947.12,184.52 L947.28,184.51 L947.43,184.51 L947.56,184.51 L947.67,184.50 L947.77,184.50 L947.85,184.50 L947.92,184.50 L947.96,184.50 L947.99,184.50 L948.00,184.50 L948.01,184.49 L948.05,184.47 L948.10,184.44 L948.18,184.40 L948.27,184.35 L948.39,184.28 L948.53,184.20 L948.68,184.12 L948.85,184.02 L949.04,183.92 L949.24,183.81 L949.46,183.69 L949.69,183.56 L949.94,183.43 L950.20,183.29 L950.47,183.14 L950.76,182.99 L951.05,182.83 L951.36,182.67 L951.67,182.51 L952.00,182.34 L952.33,182.17 L952.67,181.99 L953.02,181.81 L953.37,181.64 L953.73,181.46 L954.09,181.28 L954.46,181.10 L954.83,180.92 L955.20,180.74 L955.57,180.56 L955.95,180.38 L956.32,180.21 L956.70,180.04 L957.07,179.87 L957.44,179.71 L957.81,179.55 L958.01,179.46 M995.92,172.06 L996.05,172.06 L996.59,172.04 L997.14,172.02 L997.69,172.00 L998.24,171.98 L998.81,171.96 L999.37,171.95 L999.95,171.93 L1000.52,171.92 L1001.10,171.90 L1001.69,171.89 L1002.28,171.87 L1002.87,171.86 L1003.46,171.84 L1004.06,171.83 L1004.65,171.82 L1005.25,171.80 L1005.85,171.79 L1006.45,171.78 L1007.05,171.76 L1007.65,171.75 L1008.25,171.73 L1008.84,171.72 L1009.44,171.70 L1010.03,171.69 L1010.62,171.67 L1011.21,171.66 L1011.80,171.64 L1012.38,171.62 L1012.95,171.60 L1013.53,171.58 L1014.09,171.57 L1014.66,171.54 L1015.21,171.52 L1015.76,171.50 L1016.31,171.48 L1016.85,171.45 L1017.01,171.44 M1056.17,168.88 L1056.29,168.85 L1056.46,168.79 L1056.62,168.72 L1056.77,168.66 L1056.91,168.59 L1057.04,168.53 L1057.17,168.46 L1057.29,168.39 L1057.40,168.32 L1057.51,168.26 L1057.61,168.19 L1057.71,168.13 L1057.81,168.07 L1057.91,168.01 L1058.01,167.96 L1058.11,167.90 L1058.21,167.86 L1058.32,167.81 L1058.43,167.77 L1058.54,167.74 L1058.66,167.71 L1058.79,167.69 L1058.92,167.68 L1059.07,167.67 L1059.22,167.67 L1059.38,167.68 L1059.56,167.70 L1059.74,167.72 L1059.94,167.76 L1060.16,167.80 L1060.39,167.86 L1060.64,167.92 L1060.90,168.00 L1061.18,168.09 L1061.46,168.19 L1061.76,168.30 L1062.07,168.42 L1062.38,168.55 L1062.70,168.68 L1063.03,168.83 L1063.37,168.99 L1063.71,169.15 L1064.06,169.32 L1064.42,169.50 L1064.79,169.68 L1065.16,169.88 L1065.53,170.07 L1065.91,170.27 L1066.30,170.48 L1066.69,170.69 L1067.09,170.91 L1067.48,171.13 L1067.89,171.35 L1068.29,171.58 L1068.70,171.80 L1069.11,172.03 L1069.53,172.26 L1069.94,172.49 L1070.36,172.73 L1070.78,172.96 L1071.20,173.19 L1071.62,173.42 L1072.04,173.65 L1072.46,173.88 L1072.88,174.11 L1073.30,174.33 L1073.72,174.55 L1074.14,174.77 L1074.56,174.99 L1074.97,175.20 L1075.18,175.30 M1111.06,192.00 L1111.57,192.23 L1112.09,192.47 L1112.62,192.70 L1113.15,192.94 L1113.69,193.18 L1114.24,193.43 L1114.79,193.67 L1115.35,193.92 L1115.91,194.17 L1116.47,194.41 L1117.04,194.67 L1117.61,194.92 L1118.19,195.17 L1118.76,195.42 L1119.34,195.68 L1119.92,195.93 L1120.50,196.19 L1121.08,196.44 L1121.65,196.70 L1122.23,196.95 L1122.81,197.21 L1123.38,197.46 L1123.95,197.71 L1124.52,197.97 L1125.08,198.22 L1125.64,198.47 L1126.19,198.72 L1126.74,198.97 L1127.29,199.22 L1127.83,199.46 L1128.36,199.71 L1128.88,199.95 L1129.40,200.19 L1129.91,200.43 L1130.32,200.62 M1163.21,220.10 L1163.28,220.17 L1163.54,220.47 L1163.80,220.77 L1164.06,221.07 L1164.32,221.38 L1164.57,221.69 L1164.82,222.00 L1165.07,222.32 L1165.31,222.64 L1165.55,222.95 L1165.78,223.27 L1166.01,223.58 L1166.23,223.89 L1166.45,224.20 L1166.66,224.50 L1166.87,224.80 L1167.07,225.08 L1167.26,225.37 L1167.44,225.64 L1167.61,225.90 L1167.78,226.16 L1167.94,226.40 L1168.08,226.63 L1168.22,226.84 L1168.35,227.05 L1168.47,227.23 L1168.58,227.41 L1168.67,227.56 L1168.76,227.70 L1168.83,227.82 L1168.89,227.92 L1168.94,228.00 L1168.97,228.05 L1168.99,228.09 L1169.00,228.10 L1169.02,228.09 L1169.07,228.07 L1169.15,228.04 L1169.26,228.00 L1169.40,227.95 L1169.57,227.88 L1169.76,227.81 L1169.98,227.73 L1170.21,227.64 L1170.47,227.54 L1170.74,227.43 L1171.03,227.32 L1171.33,227.21 L1171.65,227.09 L1171.97,226.96 L1172.31,226.83 L1172.65,226.70 L1173.00,226.57 L1173.35,226.43 L1173.70,226.30 L1174.05,226.17 L1174.40,226.03 L1174.75,225.90 L1175.09,225.77 L1175.43,225.64 L1175.75,225.51 L1176.07,225.39 L1176.37,225.28 L1176.66,225.17 L1176.93,225.06 L1177.19,224.96 L1177.42,224.87 L1177.64,224.79 L1177.83,224.72 L1178.00,224.65 L1178.14,224.60 L1178.25,224.56 L1178.33,224.53 L1178.38,224.51 L1178.40,224.50 L1178.42,224.52 L1178.47,224.56 L1178.55,224.64 L1178.66,224.74 L1178.80,224.87 L1178.97,225.02 L1179.16,225.20 L1179.24,225.27 M1208.74,248.14 L1208.86,248.25 L1209.09,248.47 L1209.31,248.69 L1209.52,248.91 L1209.73,249.12 L1209.93,249.33 L1210.13,249.54 L1210.31,249.75 L1210.50,249.95 L1210.67,250.16 L1210.84,250.36 L1211.01,250.57 L1211.17,250.77 L1211.33,250.97 L1211.48,251.17 L1211.63,251.38 L1211.78,251.58 L1211.92,251.78 L1212.06,251.99 L1212.19,252.19 L1212.33,252.40 L1212.46,252.60 L1212.59,252.81 L1212.71,253.03 L1212.84,253.24 L1212.96,253.46 L1213.09,253.68 L1213.21,253.90 L1213.33,254.12 L1213.46,254.35 L1213.58,254.58 L1213.70,254.82 L1213.82,255.06 L1213.95,255.30 L1214.07,255.55 L1214.20,255.80 L1214.33,256.05 L1214.45,256.31 L1214.57,256.56 L1214.68,256.81 L1214.79,257.06 L1214.90,257.32 L1215.01,257.57 L1215.11,257.82 L1215.21,258.07 L1215.31,258.33 L1215.41,258.58 L1215.50,258.84 L1215.59,259.10 L1215.68,259.35 L1215.77,259.62 L1215.86,259.88 L1215.94,260.15 L1216.02,260.42 L1216.11,260.69 L1216.19,260.96 L1216.27,261.24 L1216.35,261.52 L1216.43,261.81 L1216.50,262.10 L1216.58,262.39 L1216.66,262.69 L1216.74,263.00 L1216.81,263.31 L1216.89,263.62 L1216.97,263.94 L1217.05,264.27 L1217.13,264.60 L1217.21,264.94 L1217.29,265.28 L1217.37,265.63 L1217.45,265.99 L1217.54,266.36 L1217.62,266.73 L1217.66,266.88 M1226.14,306.10 L1226.16,306.15 L1226.24,306.50 L1226.33,306.85 L1226.41,307.19 L1226.50,307.53 L1226.58,307.86 L1226.66,308.19 L1226.74,308.52 L1226.82,308.84 L1226.90,309.16 L1226.98,309.48 L1227.06,309.79 L1227.14,310.10 L1227.21,310.41 L1227.29,310.71 L1227.36,311.01 L1227.43,311.31 L1227.50,311.61 L1227.57,311.91 L1227.64,312.20 L1227.71,312.49 L1227.78,312.78 L1227.85,313.07 L1227.91,313.36 L1227.98,313.65 L1228.04,313.94 L1228.11,314.23 L1228.17,314.51 L1228.23,314.80 L1228.29,315.08 L1228.36,315.37 L1228.41,315.66 L1228.47,315.94 L1228.53,316.23 L1228.59,316.52 L1228.64,316.81 L1228.70,317.10 L1228.75,317.39 L1228.80,317.67 L1228.85,317.95 L1228.89,318.22 L1228.93,318.49 L1228.97,318.75 L1229.00,319.01 L1229.04,319.27 L1229.07,319.52 L1229.10,319.78 L1229.12,320.02 L1229.15,320.27 L1229.17,320.52 L1229.20,320.76 L1229.22,321.01 L1229.24,321.25 L1229.26,321.50 L1229.29,321.74 L1229.31,321.98 L1229.33,322.23 L1229.35,322.48 L1229.38,322.73 L1229.40,322.98 L1229.43,323.24 L1229.46,323.50 L1229.49,323.76 L1229.52,324.02 L1229.55,324.29 L1229.59,324.57 L1229.63,324.85 L1229.67,325.13 L1229.71,325.42 L1229.76,325.72 L1229.81,326.02 L1229.86,326.33 L1229.92,326.65 L1229.95,326.82" fill="none" stroke="#FF5A20" stroke-width="7.5" stroke-linecap="round" stroke-linejoin="round"/>
<circle cx="206.32" cy="1020.91" r="3.75" fill="#FF5A20"/>
<circle cx="212.57" cy="960.94" r="3.75" fill="#FF5A20"/>
<circle cx="221.34" cy="901.30" r="3.75" fill="#FF5A20"/>
<circle cx="234.60" cy="842.60" r="3.75" fill="#FF5A20"/>
<circle cx="252.28" cy="785.86" r="3.75" fill="#FF5A20"/>
<circle cx="270.69" cy="728.22" r="3.75" fill="#FF5A20"/>
<circle cx="284.60" cy="669.20" r="3.75" fill="#FF5A20"/>
<circle cx="302.80" cy="610.90" r="3.75" fill="#FF5A20"/>
<circle cx="318.50" cy="553.30" r="3.75" fill="#FF5A20"/>
<circle cx="336.40" cy="496.40" r="3.75" fill="#FF5A20"/>
<circle cx="352.80" cy="437.30" r="3.75" fill="#FF5A20"/>
<circle cx="377.70" cy="384.40" r="3.75" fill="#FF5A20"/>
<circle cx="420.85" cy="346.49" r="3.75" fill="#FF5A20"/>
<circle cx="463.90" cy="307.00" r="3.75" fill="#FF5A20"/>
<circle cx="517.30" cy="278.70" r="3.75" fill="#FF5A20"/>
<circle cx="577.10" cy="263.80" r="3.75" fill="#FF5A20"/>
<circle cx="636.50" cy="255.30" r="3.75" fill="#FF5A20"/>
<circle cx="695.00" cy="245.20" r="3.75" fill="#FF5A20"/>
<circle cx="751.90" cy="222.90" r="3.75" fill="#FF5A20"/>
<circle cx="809.80" cy="209.50" r="3.75" fill="#FF5A20"/>
<circle cx="865.90" cy="194.40" r="3.75" fill="#FF5A20"/>
<circle cx="919.50" cy="191.10" r="3.75" fill="#FF5A20"/>
<circle cx="976.40" cy="173.20" r="3.75" fill="#FF5A20"/>
<circle cx="1036.50" cy="169.90" r="3.75" fill="#FF5A20"/>
<circle cx="1093.30" cy="183.40" r="3.75" fill="#FF5A20"/>
<circle cx="1148.00" cy="209.70" r="3.75" fill="#FF5A20"/>
<circle cx="1192.30" cy="236.60" r="3.75" fill="#FF5A20"/>
<circle cx="1221.40" cy="287.20" r="3.75" fill="#FF5A20"/>
<circle cx="1235.00" cy="345.50" r="3.75" fill="#FF5A20"/>
<path d="M203.58,1060.00 L203.59,1059.58 L203.62,1058.99 L203.64,1058.34 L203.67,1057.63 L203.70,1056.88 L203.73,1056.09 L203.76,1055.25 L203.80,1054.38 L203.84,1053.47 L203.87,1052.53 L203.92,1051.57 L203.96,1050.57 L204.00,1049.56 L204.04,1048.53 L204.09,1047.49 L204.14,1046.43 L204.18,1045.37 L204.23,1044.30 L204.28,1043.23 L204.33,1042.16 L204.38,1041.10 L204.43,1040.05 L204.48,1039.01 L204.54,1037.98 L204.59,1036.98 L204.64,1035.99 L204.69,1035.03 L204.74,1034.10 L204.80,1033.20 L204.85,1032.34 L204.90,1031.52 L204.95,1030.74 L205.00,1030.00 L205.05,1029.29 L205.06,1029.23 M209.57,984.26 L209.63,983.66 L209.70,982.96 L209.77,982.25 L209.84,981.51 L209.92,980.76 L209.99,980.00 L210.07,979.22 L210.14,978.43 L210.22,977.63 L210.30,976.82 L210.38,976.00 L210.46,975.17 L210.54,974.33 L210.62,973.48 L210.70,972.63 L210.79,971.78 L210.87,970.92 L210.95,970.05 L211.04,969.19 L211.12,968.32 L211.21,967.46 L211.29,966.59 L211.38,965.73 L211.46,964.87 L211.55,964.01 L211.63,963.16 L211.72,962.32 L211.80,961.48 L211.89,960.65 L211.97,959.83 L212.05,959.02 L212.14,958.22 L212.22,957.43 L212.30,956.65 L212.38,955.89 L212.46,955.14 L212.54,954.41 L212.62,953.70 L212.63,953.61 M218.44,908.79 L218.51,908.36 L218.61,907.68 L218.72,906.99 L218.83,906.29 L218.94,905.58 L219.05,904.87 L219.17,904.14 L219.28,903.41 L219.40,902.66 L219.52,901.91 L219.65,901.16 L219.77,900.39 L219.90,899.62 L220.02,898.84 L220.15,898.05 L220.28,897.25 L220.42,896.45 L220.55,895.64 L220.69,894.82 L220.83,894.00 L220.97,893.17 L221.11,892.34 L221.25,891.50 L221.40,890.65 L221.55,889.79 L221.69,888.94 L221.85,888.07 L222.00,887.20 L222.15,886.32 L222.31,885.44 L222.47,884.56 L222.63,883.66 L222.79,882.77 L222.95,881.87 L223.12,880.96 L223.29,880.05 L223.46,879.14 L223.59,878.42 M233.20,832.19 L233.41,831.48 L233.67,830.66 L233.92,829.86 L234.17,829.07 L234.43,828.29 L234.69,827.52 L234.95,826.77 L235.22,826.02 L235.48,825.28 L235.75,824.54 L236.02,823.81 L236.28,823.09 L236.55,822.37 L236.82,821.65 L237.09,820.93 L237.36,820.22 L237.63,819.50 L237.90,818.79 L238.17,818.07 L238.44,817.35 L238.71,816.62 L238.98,815.89 L239.25,815.16 L239.52,814.41 L239.79,813.66 L240.05,812.90 L240.32,812.13 L240.58,811.35 L240.84,810.56 L241.10,809.76 L241.35,808.94 L241.61,808.10 L241.86,807.25 L242.11,806.39 L242.36,805.50 L242.60,804.60 L242.84,803.68 L243.01,803.01 M252.33,759.12 L252.50,758.25 L252.66,757.38 L252.82,756.52 L252.97,755.67 L253.12,754.83 L253.27,754.00 L253.41,753.18 L253.55,752.36 L253.69,751.55 L253.82,750.75 L253.96,749.95 L254.10,749.15 L254.23,748.36 L254.37,747.56 L254.50,746.77 L254.64,745.98 L254.78,745.19 L254.92,744.40 L255.06,743.60 L255.20,742.80 L255.35,742.00 L255.51,741.19 L255.66,740.38 L255.83,739.56 L255.99,738.73 L256.17,737.89 L256.34,737.05 L256.53,736.19 L256.72,735.33 L256.92,734.45 L257.13,733.56 L257.34,732.66 L257.57,731.74 L257.80,730.81 L258.05,729.86 L258.30,728.92 M272.45,684.47 L272.54,684.14 L272.76,683.32 L272.98,682.53 L273.18,681.77 L273.36,681.04 L273.54,680.33 L273.71,679.65 L273.86,678.99 L274.01,678.35 L274.15,677.73 L274.28,677.13 L274.41,676.55 L274.52,675.97 L274.64,675.41 L274.75,674.86 L274.85,674.32 L274.95,673.78 L275.05,673.25 L275.15,672.72 L275.24,672.19 L275.34,671.66 L275.43,671.13 L275.53,670.60 L275.63,670.05 L275.73,669.50 L275.83,668.94 L275.94,668.37 L276.05,667.78 L276.17,667.18 L276.29,666.56 L276.42,665.92 L276.56,665.26 L276.70,664.57 L276.86,663.87 L277.02,663.13 L277.19,662.37 L277.38,661.58 L277.57,660.75 L277.78,659.89 L278.00,659.00 L278.23,658.07 L278.48,657.10 L278.73,656.10 L279.00,655.06 L279.16,654.42 M290.61,611.59 L290.74,611.10 L290.97,610.24 L291.18,609.41 L291.39,608.61 L291.59,607.84 L291.78,607.11 L291.96,606.39 L292.14,605.71 L292.31,605.04 L292.47,604.40 L292.63,603.78 L292.78,603.17 L292.93,602.58 L293.08,602.01 L293.22,601.44 L293.36,600.88 L293.50,600.34 L293.63,599.79 L293.77,599.26 L293.91,598.72 L294.04,598.18 L294.18,597.64 L294.32,597.10 L294.46,596.56 L294.60,596.00 L294.75,595.44 L294.90,594.86 L295.06,594.27 L295.22,593.67 L295.39,593.05 L295.56,592.41 L295.74,591.75 L295.93,591.07 L296.12,590.36 L296.33,589.63 L296.54,588.87 L296.76,588.08 L297.00,587.25 L297.24,586.39 L297.50,585.50 L297.77,584.57 L298.05,583.60 L298.34,582.60 L298.56,581.83 M311.66,538.50 L311.79,538.11 L312.07,537.26 L312.34,536.45 L312.60,535.67 L312.85,534.92 L313.10,534.20 L313.35,533.51 L313.58,532.84 L313.81,532.20 L314.04,531.57 L314.26,530.97 L314.48,530.39 L314.70,529.82 L314.91,529.26 L315.12,528.72 L315.32,528.18 L315.53,527.65 L315.73,527.13 L315.93,526.61 L316.14,526.09 L316.34,525.58 L316.54,525.06 L316.75,524.53 L316.95,524.00 L317.16,523.46 L317.37,522.91 L317.58,522.35 L317.80,521.77 L318.02,521.18 L318.24,520.57 L318.47,519.93 L318.70,519.28 L318.94,518.60 L319.18,517.90 L319.44,517.16 L319.69,516.40 L319.96,515.60 L320.23,514.77 L320.51,513.91 L320.80,513.00 L321.10,512.05 L321.41,511.07 L321.72,510.05 L321.90,509.46 M335.17,464.47 L335.29,464.11 L335.56,463.26 L335.83,462.44 L336.10,461.66 L336.35,460.91 L336.60,460.20 L336.85,459.51 L337.08,458.85 L337.32,458.22 L337.54,457.61 L337.77,457.02 L337.98,456.45 L338.20,455.90 L338.41,455.36 L338.62,454.84 L338.83,454.32 L339.03,453.82 L339.23,453.32 L339.43,452.83 L339.63,452.34 L339.83,451.85 L340.03,451.36 L340.23,450.86 L340.43,450.36 L340.63,449.86 L340.83,449.34 L341.03,448.82 L341.24,448.27 L341.44,447.72 L341.65,447.15 L341.87,446.55 L342.08,445.94 L342.31,445.30 L342.53,444.64 L342.76,443.94 L343.00,443.22 L343.24,442.47 L343.49,441.68 L343.74,440.86 L344.00,440.00 L344.27,439.10 L344.54,438.17 L344.81,437.21 L345.09,436.22 L345.32,435.42 M357.16,391.00 L357.17,390.96 L357.43,390.10 L357.68,389.25 L357.93,388.42 L358.18,387.61 L358.42,386.81 L358.66,386.02 L358.90,385.24 L359.14,384.48 L359.37,383.72 L359.61,382.98 L359.84,382.24 L360.07,381.52 L360.30,380.79 L360.54,380.08 L360.77,379.37 L361.00,378.66 L361.23,377.96 L361.47,377.26 L361.71,376.56 L361.94,375.86 L362.18,375.16 L362.43,374.46 L362.68,373.76 L362.92,373.05 L363.18,372.34 L363.44,371.63 L363.70,370.91 L363.96,370.18 L364.24,369.44 L364.51,368.70 L364.79,367.94 L365.08,367.18 L365.38,366.40 L365.68,365.62 L365.98,364.82 L366.30,364.00 L366.62,363.17 L366.96,362.31 L367.13,361.87 M383.57,325.61 L383.88,325.18 L384.21,324.73 L384.54,324.30 L384.87,323.88 L385.20,323.47 L385.53,323.09 L385.86,322.71 L386.18,322.36 L386.50,322.01 L386.81,321.69 L387.12,321.37 L387.43,321.08 L387.72,320.79 L388.01,320.52 L388.29,320.27 L388.57,320.03 L388.83,319.81 L389.09,319.59 L389.33,319.40 L389.56,319.21 L389.78,319.04 L389.99,318.88 L390.19,318.74 L390.37,318.61 L390.54,318.49 L390.69,318.39 L390.83,318.30 L390.95,318.22 L391.05,318.15 L391.14,318.10 L391.21,318.05 L391.26,318.02 L391.29,318.01 L391.30,318.00 L391.32,317.99 L391.37,317.98 L391.46,317.95 L391.59,317.90 L391.74,317.85 L391.93,317.78 L392.15,317.71 L392.40,317.62 L392.68,317.53 L392.99,317.42 L393.32,317.30 L393.69,317.17 L394.07,317.04 L394.48,316.89 L394.92,316.74 L395.38,316.57 L395.86,316.40 L396.36,316.22 L396.87,316.03 L397.41,315.83 L397.97,315.63 L398.54,315.41 L399.13,315.20 L399.73,314.97 L400.35,314.74 L400.98,314.50 L401.62,314.25 L402.27,314.00 L402.93,313.74 L403.60,313.48 L404.28,313.21 L404.97,312.94 L405.66,312.66 L406.36,312.38 L407.06,312.09 L407.77,311.80 L408.47,311.50 L409.18,311.21 L409.87,310.91 M449.47,292.31 L449.48,292.30 L449.75,292.09 L450.04,291.87 L450.35,291.64 L450.67,291.40 L451.00,291.15 L451.35,290.89 L451.70,290.62 L452.07,290.34 L452.44,290.06 L452.83,289.78 L453.21,289.48 L453.61,289.19 L454.01,288.89 L454.41,288.59 L454.81,288.29 L455.21,287.99 L455.62,287.69 L456.02,287.40 L456.41,287.10 L456.81,286.81 L457.20,286.52 L457.58,286.24 L457.96,285.97 L458.33,285.70 L458.69,285.44 L459.03,285.19 L459.37,284.95 L459.69,284.72 L460.00,284.50 L460.30,284.29 L460.61,284.07 L460.92,283.86 L461.23,283.64 L461.54,283.42 L461.85,283.20 L462.17,282.98 L462.49,282.76 L462.80,282.54 L463.12,282.32 L463.44,282.10 L463.76,281.88 L464.09,281.66 L464.41,281.44 L464.73,281.22 L465.05,281.00 L465.37,280.79 L465.69,280.57 L466.00,280.36 L466.32,280.14 L466.63,279.93 L466.95,279.72 L467.26,279.52 L467.56,279.31 L467.87,279.11 L468.17,278.91 L468.47,278.72 L468.77,278.52 L469.06,278.33 L469.35,278.15 L469.64,277.96 L469.92,277.78 L470.20,277.61 L470.47,277.44 L470.74,277.27 L471.00,277.11 L471.26,276.95 L471.51,276.79 L471.76,276.64 L472.00,276.50 L472.24,276.36 L472.48,276.22 L472.72,276.08 L472.97,275.95 L473.21,275.82 L473.45,275.69 L473.70,275.56 L473.94,275.43 L474.19,275.31 L474.43,275.19 L474.67,275.07 L474.88,274.97 M519.96,255.02 L520.23,254.88 L520.67,254.64 L521.13,254.39 L521.61,254.13 L522.11,253.86 L522.63,253.59 L523.15,253.31 L523.69,253.03 L524.24,252.74 L524.80,252.45 L525.37,252.16 L525.93,251.87 L526.51,251.58 L527.08,251.29 L527.65,251.01 L528.23,250.73 L528.79,250.46 L529.36,250.19 L529.91,249.93 L530.46,249.68 L530.99,249.43 L531.52,249.20 L532.02,248.98 L532.52,248.78 L532.99,248.58 L533.45,248.41 L533.89,248.24 L534.30,248.10 L534.71,247.97 L535.13,247.84 L535.57,247.72 L536.02,247.60 L536.48,247.48 L536.94,247.38 L537.42,247.27 L537.90,247.17 L538.39,247.07 L538.89,246.98 L539.38,246.89 L539.88,246.81 L540.38,246.73 L540.87,246.65 L541.37,246.58 L541.86,246.51 L542.34,246.45 L542.82,246.39 L543.29,246.33 L543.76,246.28 L544.21,246.22 L544.65,246.18 L545.08,246.13 L545.50,246.09 L545.90,246.05 L546.28,246.02 L546.65,245.99 L546.99,245.96 L547.32,245.93 L547.62,245.91 L547.91,245.89 L548.16,245.87 L548.40,245.85 L548.60,245.84 L548.78,245.83 L548.93,245.82 L548.95,245.81 M590.37,226.23 L591.08,225.92 L591.95,225.54 L592.79,225.18 L593.62,224.82 L594.43,224.48 L595.23,224.14 L596.01,223.81 L596.78,223.49 L597.54,223.18 L598.28,222.88 L599.02,222.58 L599.75,222.28 L600.47,221.99 L601.18,221.71 L601.88,221.43 L602.59,221.16 L603.28,220.89 L603.98,220.62 L604.67,220.36 L605.36,220.09 L606.05,219.83 L606.75,219.57 L607.44,219.31 L608.14,219.06 L608.85,218.80 L609.55,218.54 L610.27,218.28 L610.99,218.02 L611.72,217.76 L612.46,217.49 L613.21,217.22 L613.97,216.95 L614.75,216.67 L615.53,216.39 L616.34,216.11 L617.15,215.82 L617.99,215.52 L618.84,215.22 L619.09,215.13 M665.94,201.04 L666.59,201.09 L667.35,201.14 L668.16,201.19 L669.02,201.24 L669.91,201.30 L670.85,201.36 L671.82,201.43 L672.82,201.49 L673.86,201.56 L674.92,201.62 L676.00,201.69 L677.11,201.76 L678.23,201.84 L679.37,201.91 L680.52,201.98 L681.68,202.05 L682.85,202.13 L684.02,202.20 L685.19,202.27 L686.35,202.35 L687.51,202.42 L688.66,202.49 L689.80,202.56 L690.93,202.63 L692.04,202.69 L693.12,202.76 L694.18,202.82 L695.22,202.88 L696.23,202.94 L696.68,202.97 M742.42,204.75 L742.42,204.75 L743.15,204.66 L743.92,204.56 L744.74,204.46 L745.60,204.35 L746.50,204.23 L747.45,204.10 L748.43,203.97 L749.44,203.84 L750.48,203.69 L751.55,203.54 L752.64,203.39 L753.75,203.23 L754.88,203.07 L756.02,202.90 L757.18,202.72 L758.34,202.54 L759.50,202.36 L760.67,202.17 L761.84,201.98 L763.00,201.79 L764.15,201.59 L765.30,201.39 L766.43,201.19 L767.54,200.98 L768.64,200.77 L769.71,200.56 L770.75,200.35 L771.77,200.13 L772.75,199.92 L772.83,199.90 M816.70,186.65 L816.86,186.60 L817.41,186.45 L817.93,186.30 L818.44,186.16 L818.92,186.02 L819.39,185.89 L819.85,185.76 L820.28,185.64 L820.71,185.53 L821.12,185.42 L821.51,185.31 L821.90,185.21 L822.28,185.10 L822.64,185.01 L823.00,184.91 L823.35,184.82 L823.70,184.73 L824.04,184.64 L824.37,184.55 L824.70,184.46 L825.03,184.38 L825.36,184.29 L825.69,184.20 L826.02,184.11 L826.35,184.03 L826.69,183.93 L827.02,183.84 L827.37,183.75 L827.72,183.65 L828.07,183.55 L828.44,183.45 L828.81,183.34 L829.20,183.23 L829.59,183.12 L830.00,183.00 L830.41,182.88 L830.80,182.76 L831.17,182.64 L831.53,182.51 L831.88,182.39 L832.23,182.27 L832.56,182.15 L832.88,182.03 L833.19,181.91 L833.50,181.78 L833.81,181.66 L834.11,181.54 L834.41,181.42 L834.71,181.29 L835.01,181.17 L835.31,181.05 L835.62,180.92 L835.92,180.80 L836.24,180.67 L836.56,180.55 L836.88,180.43 L837.22,180.30 L837.57,180.18 L837.92,180.05 L838.30,179.92 L838.68,179.80 L839.08,179.67 L839.50,179.55 L839.93,179.42 L840.38,179.29 L840.85,179.16 L841.35,179.04 L841.86,178.91 L842.40,178.78 L842.96,178.65 L843.55,178.52 L844.17,178.39 L844.82,178.26 L845.49,178.13 L846.20,178.00 L846.21,178.00 M891.52,172.01 L892.27,171.92 L893.12,171.82 L893.97,171.72 L894.80,171.62 L895.62,171.53 L896.44,171.44 L897.24,171.35 L898.04,171.26 L898.84,171.17 L899.62,171.08 L900.41,171.00 L901.18,170.91 L901.96,170.82 L902.73,170.73 L903.50,170.64 L904.27,170.55 L905.04,170.46 L905.81,170.36 L906.58,170.26 L907.35,170.16 L908.12,170.05 L908.90,169.94 L909.68,169.82 L910.47,169.70 L911.26,169.57 L912.06,169.44 L912.87,169.30 L913.69,169.15 L914.51,169.00 L915.35,168.84 L916.19,168.67 L917.05,168.50 L917.92,168.31 L918.80,168.12 L919.69,167.91 L920.60,167.70 L921.53,167.47 L921.94,167.37 M961.90,154.75 L961.91,154.74 L962.73,154.49 L963.55,154.23 L964.38,153.97 L965.21,153.70 L966.04,153.44 L966.87,153.17 L967.71,152.91 L968.54,152.65 L969.36,152.39 L970.18,152.12 L971.00,151.87 L971.80,151.61 L972.60,151.36 L973.38,151.11 L974.15,150.86 L974.91,150.62 L975.65,150.39 L976.37,150.16 L977.08,149.93 L977.76,149.71 L978.42,149.50 L979.06,149.30 L979.68,149.10 L980.27,148.91 L980.83,148.73 L981.36,148.56 L981.87,148.40 L982.34,148.25 L982.77,148.11 L983.18,147.98 L983.54,147.87 L983.87,147.76 L984.16,147.67 L984.41,147.59 L984.62,147.52 L984.78,147.47 L984.90,147.43 L984.98,147.41 L985.00,147.40 L985.00,147.40 L985.01,147.40 L985.03,147.40 L985.05,147.40 L985.08,147.40 L985.12,147.40 L985.16,147.40 L985.22,147.40 L985.28,147.40 L985.36,147.40 L985.44,147.41 L985.54,147.41 L985.65,147.42 L985.77,147.42 L985.90,147.43 L986.05,147.44 L986.21,147.45 L986.38,147.46 L986.58,147.48 L986.78,147.49 L987.00,147.51 L987.24,147.53 L987.50,147.55 L987.77,147.58 L988.06,147.61 L988.37,147.64 L988.70,147.67 L989.05,147.71 L989.43,147.74 L989.82,147.79 L990.23,147.83 L990.66,147.88 L991.12,147.93 L991.53,147.98 M1038.52,154.16 L1038.95,154.21 L1039.48,154.27 L1039.97,154.33 L1040.44,154.39 L1040.88,154.44 L1041.29,154.49 L1041.67,154.53 L1042.04,154.57 L1042.38,154.61 L1042.70,154.64 L1043.00,154.68 L1043.29,154.71 L1043.57,154.73 L1043.83,154.76 L1044.07,154.79 L1044.31,154.81 L1044.54,154.83 L1044.77,154.85 L1044.99,154.87 L1045.20,154.90 L1045.42,154.92 L1045.63,154.94 L1045.85,154.96 L1046.07,154.99 L1046.30,155.01 L1046.53,155.04 L1046.77,155.06 L1047.02,155.09 L1047.28,155.13 L1047.56,155.16 L1047.85,155.20 L1048.15,155.24 L1048.48,155.28 L1048.83,155.33 L1049.19,155.38 L1049.58,155.44 L1050.00,155.50 L1050.43,155.56 L1050.85,155.62 L1051.27,155.69 L1051.70,155.75 L1052.12,155.81 L1052.54,155.87 L1052.96,155.93 L1053.38,155.99 L1053.80,156.05 L1054.23,156.11 L1054.66,156.18 L1055.09,156.24 L1055.52,156.30 L1055.96,156.37 L1056.40,156.44 L1056.85,156.50 L1057.31,156.57 L1057.77,156.65 L1058.24,156.72 L1058.72,156.79 L1059.20,156.87 L1059.70,156.95 L1060.20,157.03 L1060.72,157.12 L1061.24,157.20 L1061.78,157.29 L1062.33,157.38 L1062.89,157.48 L1063.46,157.58 L1064.05,157.68 L1064.65,157.78 L1065.27,157.89 L1065.90,158.00 L1066.55,158.12 L1067.21,158.24 L1067.89,158.36 L1068.59,158.49 L1068.99,158.56 M1114.89,167.67 L1115.03,167.69 L1115.62,167.79 L1116.19,167.89 L1116.74,167.98 L1117.28,168.07 L1117.80,168.15 L1118.31,168.23 L1118.80,168.31 L1119.27,168.38 L1119.73,168.45 L1120.17,168.52 L1120.60,168.58 L1121.00,168.64 L1121.39,168.69 L1121.77,168.74 L1122.13,168.79 L1122.47,168.84 L1122.79,168.88 L1123.09,168.92 L1123.38,168.96 L1123.65,168.99 L1123.90,169.02 L1124.13,169.05 L1124.35,169.07 L1124.55,169.10 L1124.73,169.12 L1124.89,169.14 L1125.03,169.15 L1125.15,169.16 L1125.26,169.18 L1125.35,169.18 L1125.41,169.19 L1125.46,169.20 L1125.49,169.20 L1125.50,169.20 L1125.51,169.21 L1125.54,169.22 L1125.58,169.25 L1125.65,169.29 L1125.73,169.35 L1125.83,169.41 L1125.95,169.48 L1126.08,169.57 L1126.24,169.67 L1126.41,169.78 L1126.59,169.90 L1126.80,170.03 L1127.02,170.17 L1127.26,170.32 L1127.51,170.49 L1127.78,170.66 L1128.06,170.85 L1128.36,171.04 L1128.68,171.25 L1129.01,171.47 L1129.36,171.70 L1129.72,171.94 L1130.10,172.19 L1130.49,172.45 L1130.90,172.72 L1131.32,173.00 L1131.75,173.29 L1132.20,173.59 L1132.66,173.91 L1133.14,174.23 L1133.62,174.56 L1134.13,174.90 L1134.64,175.26 L1135.17,175.62 L1135.71,175.99 L1136.26,176.37 L1136.83,176.76 L1137.41,177.17 L1138.00,177.58 L1138.60,178.00 L1139.22,178.44 L1139.88,178.90 L1140.56,179.39 L1141.27,179.91 L1142.01,180.44 L1142.09,180.50 M1177.35,205.27 L1178.16,205.75 L1178.98,206.21 L1179.79,206.67 L1180.61,207.13 L1181.42,207.57 L1182.23,208.01 L1183.04,208.45 L1183.85,208.87 L1184.65,209.29 L1185.45,209.71 L1186.24,210.12 L1187.03,210.52 L1187.82,210.92 L1188.59,211.31 L1189.37,211.69 L1190.13,212.07 L1190.89,212.44 L1191.64,212.81 L1192.38,213.17 L1193.11,213.53 L1193.84,213.88 L1194.55,214.23 L1195.25,214.57 L1195.94,214.91 L1196.62,215.24 L1197.29,215.56 L1197.95,215.89 L1198.59,216.21 L1199.22,216.52 L1199.83,216.83 L1200.43,217.13 L1201.02,217.43 L1201.59,217.73 L1202.14,218.03 L1202.68,218.31 L1203.20,218.60 L1203.70,218.88 L1204.18,219.14 L1204.64,219.38 L1204.70,219.41 M1230.32,262.36 L1230.37,262.58 L1230.52,263.29 L1230.68,264.03 L1230.84,264.77 L1231.00,265.53 L1231.16,266.31 L1231.32,267.09 L1231.48,267.89 L1231.65,268.70 L1231.81,269.51 L1231.98,270.34 L1232.15,271.17 L1232.32,272.00 L1232.49,272.84 L1232.66,273.68 L1232.83,274.52 L1233.00,275.37 L1233.17,276.21 L1233.34,277.06 L1233.51,277.89 L1233.68,278.73 L1233.85,279.56 L1234.02,280.39 L1234.19,281.20 L1234.36,282.01 L1234.53,282.81 L1234.70,283.60 L1234.87,284.38 L1235.03,285.14 L1235.20,285.90 L1235.36,286.63 L1235.52,287.35 L1235.68,288.05 L1235.84,288.74 L1236.00,289.40 L1236.16,290.05 L1236.31,290.68 L1236.46,291.30 L1236.61,291.91 L1236.76,292.48 M1248.84,335.17 L1248.94,335.51 L1249.06,335.96 L1249.17,336.35 L1249.27,336.69 L1249.35,336.97 L1249.41,337.20 L1249.46,337.36 L1249.49,337.47 L1249.50,337.50" fill="none" stroke="#006CBE" stroke-width="7.5" stroke-linecap="round" stroke-linejoin="round"/>
<path d="M203.50,1062.00C203.50,1062.00 204.38,1064.62 205.00,1061.00C205.62,1057.38 206.57,1047.43 207.20,1040.30C207.83,1033.17 208.17,1025.55 208.80,1018.20C209.43,1010.85 210.27,1003.55 211.00,996.20C211.73,988.85 212.37,981.45 213.20,974.10C214.03,966.75 214.98,959.45 216.00,952.10C217.02,944.75 217.88,937.07 219.30,930.00C220.72,922.93 222.57,917.42 224.50,909.70C226.43,901.98 228.53,892.35 230.90,883.70C233.27,875.05 235.47,866.75 238.70,857.80C241.93,848.85 246.97,838.10 250.30,830.00C253.63,821.90 256.10,815.65 258.70,809.20C261.30,802.75 263.75,797.25 265.90,791.30C268.05,785.35 269.60,779.43 271.60,773.50C273.60,767.57 276.03,761.65 277.90,755.70C279.77,749.75 281.17,743.75 282.80,737.80C284.43,731.85 285.22,727.30 287.70,720.00C290.18,712.70 294.08,702.47 297.70,694.00C301.32,685.53 305.40,678.20 309.40,669.20C313.40,660.20 318.18,649.87 321.70,640.00C325.22,630.13 327.50,619.42 330.50,610.00C333.50,600.58 336.93,591.70 339.70,583.50C342.47,575.30 344.25,568.37 347.10,560.80C349.95,553.23 353.63,545.67 356.80,538.10C359.97,530.53 363.05,522.97 366.10,515.40C369.15,507.83 371.82,501.45 375.10,492.70C378.38,483.95 382.95,470.28 385.80,462.90C388.65,455.52 389.60,453.25 392.20,448.40C394.80,443.55 398.35,438.67 401.40,433.80C404.45,428.93 407.10,424.07 410.50,419.20C413.90,414.33 418.80,408.38 421.80,404.60C424.80,400.82 426.13,399.28 428.50,396.50C430.87,393.72 432.77,390.80 436.00,387.90C439.23,385.00 447.90,379.10 447.90,379.10C447.90,379.10 460.83,374.35 467.90,371.90C474.97,369.45 490.30,364.40 490.30,364.40C490.30,364.40 502.22,362.33 507.80,361.60C513.38,360.87 518.43,360.40 523.80,360.00C529.17,359.60 534.43,359.78 540.00,359.20C545.57,358.62 557.20,356.50 557.20,356.50L581.10,349.80L602.40,349.00C602.40,349.00 620.35,345.32 629.00,343.10C637.65,340.88 654.30,335.70 654.30,335.70L676.90,337.80L702.20,333.30L727.50,313.90L751.50,301.90L772.70,300.60L794.00,296.60L826.00,291.30L848.60,282.50L894.60,292.00L915.90,280.60L939.80,271.30L962.50,274.50L985.10,283.30L1003.70,288.60L1019.70,286.70C1019.70,286.70 1032.62,285.62 1040.00,285.10C1047.38,284.58 1056.02,284.12 1064.00,283.60C1071.98,283.08 1079.92,282.32 1087.90,282.00C1095.88,281.68 1111.90,281.70 1111.90,281.70L1126.20,289.90L1139.80,293.10C1139.80,293.10 1148.73,303.57 1151.80,307.90C1154.87,312.23 1156.27,314.12 1158.20,319.10C1160.13,324.08 1161.07,329.32 1163.40,337.80C1165.73,346.28 1169.62,360.42 1172.20,370.00C1174.78,379.58 1176.15,385.90 1178.90,395.30C1181.65,404.70 1188.70,426.40 1188.70,426.40C1188.70,426.40 1195.17,437.50 1198.40,444.00C1201.63,450.50 1204.85,458.27 1208.10,465.40C1211.35,472.53 1214.65,479.35 1217.90,486.80C1221.15,494.25 1227.60,510.10 1227.60,510.10C1227.60,510.10 1231.62,523.10 1233.40,529.60C1235.18,536.10 1237.00,542.28 1238.30,549.10C1239.60,555.92 1240.38,563.05 1241.20,570.50C1242.02,577.95 1243.20,593.80 1243.20,593.80" fill="none" stroke="#008E5E" stroke-width="7.5" stroke-linecap="round" stroke-linejoin="round"/>
<rect x="1129.5" y="688.5" width="296" height="318" fill="#fff" stroke="#111" stroke-width="1.4"/>
<line x1="1138.2" y1="725.4" x2="1256" y2="725.4" stroke="#FFA41E" stroke-width="7.5" stroke-linecap="round" stroke-dasharray="11.4 22.6"/>
<text x="1268" y="742.7" font-size="54">C-2-<tspan font-style="italic">t</tspan><tspan font-size="36" dy="14">35</tspan></text>
<line x1="1138.2" y1="803.3" x2="1256" y2="803.3" stroke="#008E5E" stroke-width="7.5" stroke-linecap="round"/>
<text x="1268" y="820.6" font-size="54">C-2-<tspan font-style="italic">t</tspan><tspan font-size="36" dy="14">50</tspan></text>
<line x1="1138.2" y1="880.6" x2="1256" y2="880.6" stroke="#FF5A20" stroke-width="7.5" stroke-linecap="round" stroke-dasharray="21.1 19.6 0 19.6"/>
<text x="1268" y="897.9" font-size="54">C-2-<tspan font-style="italic">t</tspan><tspan font-size="36" dy="14">65</tspan></text>
<line x1="1138.2" y1="958.6" x2="1256" y2="958.6" stroke="#006CBE" stroke-width="7.5" stroke-linecap="round" stroke-dasharray="30.8 45.2"/>
<text x="1268" y="975.9" font-size="54">C-2-<tspan font-style="italic">t</tspan><tspan font-size="36" dy="14">80</tspan></text>
</svg></body></html>
